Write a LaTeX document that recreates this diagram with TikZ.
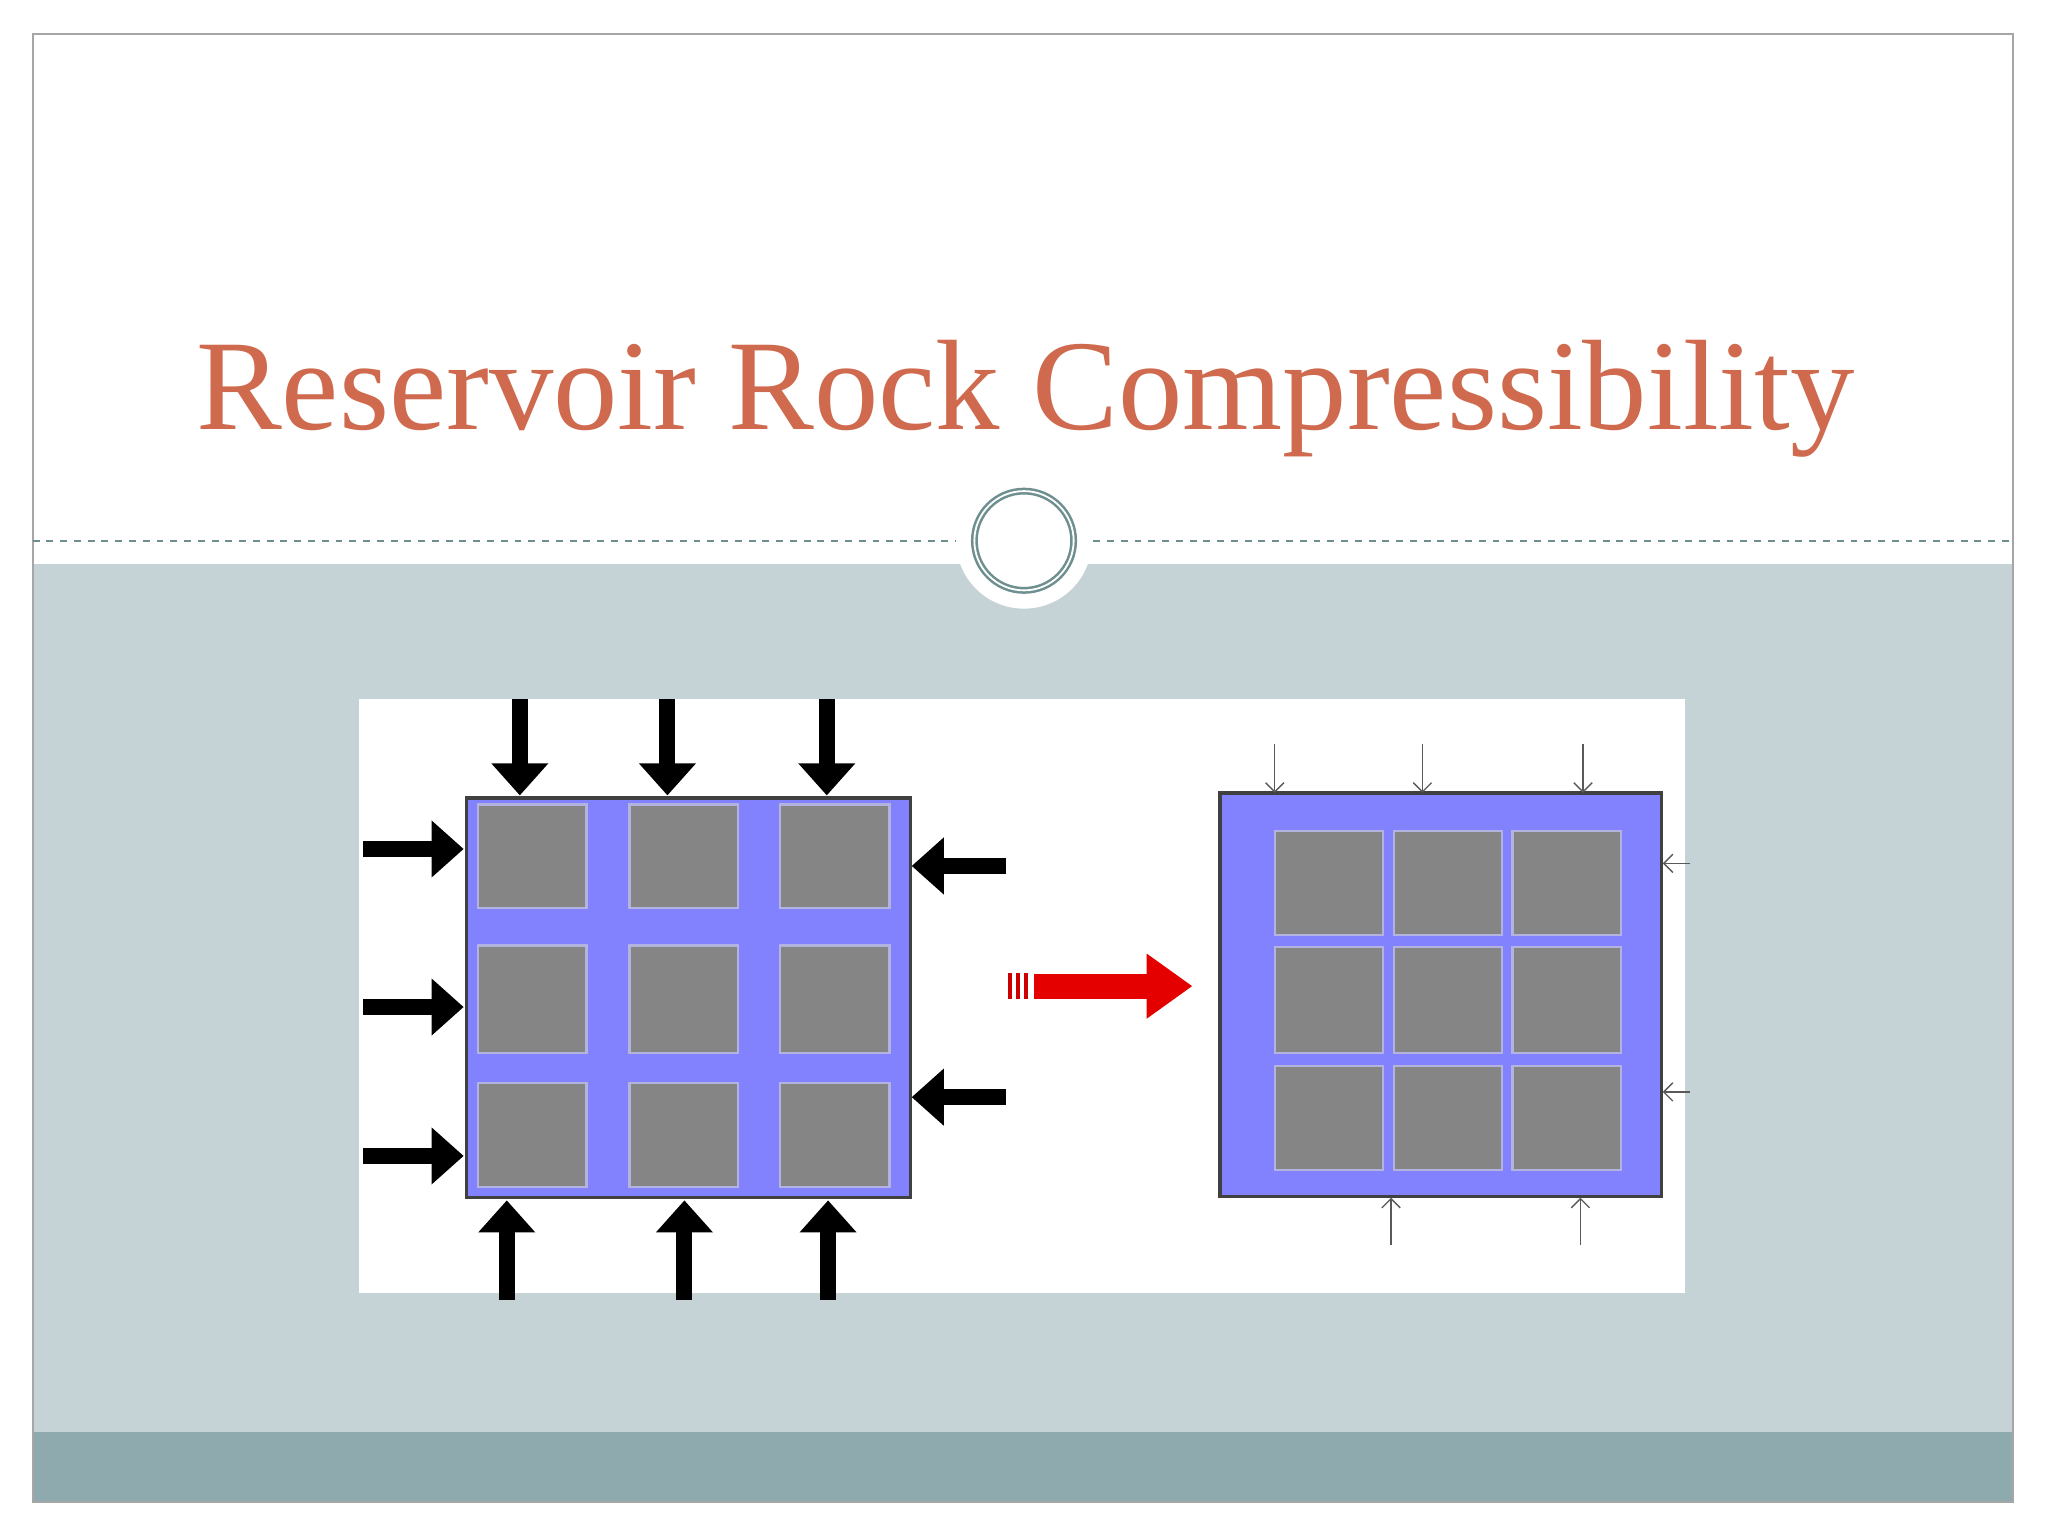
\documentclass[tikz,border=0pt]{standalone}
\usepackage{fontspec}
\setmainfont{Liberation Serif}
\usetikzlibrary{arrows.meta}
\definecolor{titlec}{HTML}{CF6A4E}
\definecolor{bgmid}{HTML}{C5D2D6}
\definecolor{bgbot}{HTML}{8FAAAE}
\definecolor{teal}{HTML}{6E8F8F}
\definecolor{rockblue}{HTML}{8282FF}
\definecolor{grain}{HTML}{858585}
\tikzset{
  grainbox/.style={fill=grain,draw=gray!40!rockblue!60!white,line width=1pt},
  bigarr/.style={line width=7pt,-{Triangle[width=24pt,length=14pt]}},
  thinarr/.style={line width=0.6pt,gray!70!black,-{Straight Barb[length=4pt]}},
}
\begin{document}
\begin{tikzpicture}[x=0.02cm,y=-0.02cm]
\useasboundingbox (0,0) rectangle (1568,1176);
\fill[white] (0,0) rectangle (1568,1176);
\fill[bgmid] (25,432) rectangle (1541,1096);
\fill[bgbot] (25,1096) rectangle (1541,1150);
\draw[gray!70,line width=0.8pt] (25,26) rectangle (1541,1150);
\draw[teal,dashed,line width=0.8pt] (25,414) -- (733,414);
\draw[teal,dashed,line width=0.8pt] (837,414) -- (1541,414);
\fill[white] (784,414) circle (52);
\draw[teal,line width=3pt] (784,414) circle (38);
\draw[white,line width=0.8pt] (784,414) circle (38);
\node[text=titlec] (title) at (785,305) {\resizebox{25.4cm}{!}{Reservoir Rock Compressibility}};
% picture panel
\fill[white] (275,535) rectangle (1290,990);
% left
\draw[fill=rockblue,draw=gray!50!black,line width=1.5pt] (357,611) rectangle (697,917);
\foreach \xa/\xb in {366/449,482/565,597/681}
  \foreach \ya/\yb in {616/695,724/806,829/909}
    \draw[grainbox] (\xa,\ya) rectangle (\xb,\yb);
\foreach \x in {398,511,633} \draw[bigarr] (\x,535) -- (\x,609);
\foreach \y in {650,771,885} \draw[bigarr] (278,\y) -- (355,\y);
\foreach \y in {663,840} \draw[bigarr] (770,\y) -- (698,\y);
\foreach \x in {388,524,634} \draw[bigarr] (\x,995) -- (\x,919);
% red arrow
\draw[red!90!black,line width=11pt,-{Triangle[width=27pt,length=20pt]}] (792,755) -- (913,755);
\foreach \x in {772,778,784} \fill[red!80!black] (\x,745) rectangle (\x+3,765);
% right
\draw[fill=rockblue,draw=gray!50!black,line width=1.5pt] (934,607) rectangle (1272,916);
\foreach \xa/\xb in {976/1059,1067/1150,1158/1241}
  \foreach \ya/\yb in {636/716,725/806,816/896}
    \draw[grainbox] (\xa,\ya) rectangle (\xb,\yb);
\foreach \x in {976,1089,1212} \draw[thinarr] (\x,570) -- (\x,607);
\foreach \y in {661,836} \draw[thinarr] (1294,\y) -- (1273,\y);
\foreach \x in {1065,1210} \draw[thinarr] (\x,953) -- (\x,917);
\end{tikzpicture}
\end{document}
